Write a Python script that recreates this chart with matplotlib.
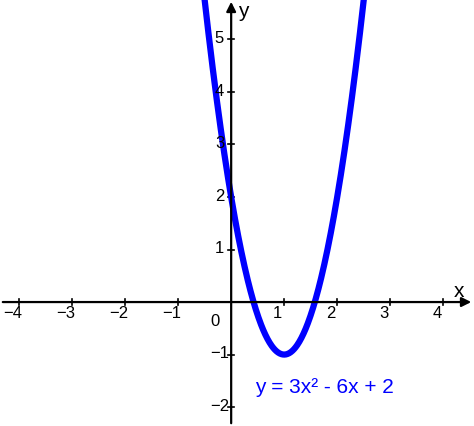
import numpy as np
import matplotlib.pyplot as plt

plt.rcParams['font.family'] = ['Liberation Sans', 'DejaVu Sans']

# y = 3x^2 - 6x + 2
coeffs = [3, -6, 2]
x_ticks = [-4, -3, -2, -1, 1, 2, 3, 4]
y_ticks = [-2, -1, 1, 2, 3, 4, 5]
label = "y = 3x² - 6x + 2"

fig = plt.figure(figsize=(4.74, 4.27), dpi=100)
ax = fig.add_axes([0, 0, 1, 1])
ax.set_xlim(-4.36, 4.58)
ax.set_ylim(-2.36, 5.77)
ax.axis("off")

# axes with arrows
ax.annotate("", xy=(4.58, 0), xytext=(-4.36, 0),
            arrowprops=dict(arrowstyle="-|>", color="black", lw=1.6, mutation_scale=14))
ax.annotate("", xy=(0, 5.77), xytext=(0, -2.36),
            arrowprops=dict(arrowstyle="-|>", color="black", lw=1.6, mutation_scale=14))

for t in x_ticks:
    ax.plot([t, t], [-0.06, 0.06], color="black", lw=1.2)
    ax.text(t - 0.12, -0.2, str(t).replace("-", "−"), ha="center", va="center", fontsize=12)
for t in y_ticks:
    ax.plot([-0.06, 0.06], [t, t], color="black", lw=1.2)
    ax.text(-0.22, t + 0.03, str(t).replace("-", "−"), ha="center", va="center", fontsize=12)
ax.text(-0.3, -0.36, "0", ha="center", va="center", fontsize=12)
ax.text(4.3, 0.22, "x", ha="center", va="center", fontsize=15)
ax.text(0.22, 5.55, "y", ha="center", va="center", fontsize=15)

xs = np.linspace(-1, 3, 400)
ax.plot(xs, np.polyval(coeffs, xs), color="#0000ff", lw=4.5, clip_on=True)
ax.text(0.45, -1.6, label, color="#0000ff", fontsize=15, ha="left", va="center")

fig.savefig("out.png", dpi=100)
